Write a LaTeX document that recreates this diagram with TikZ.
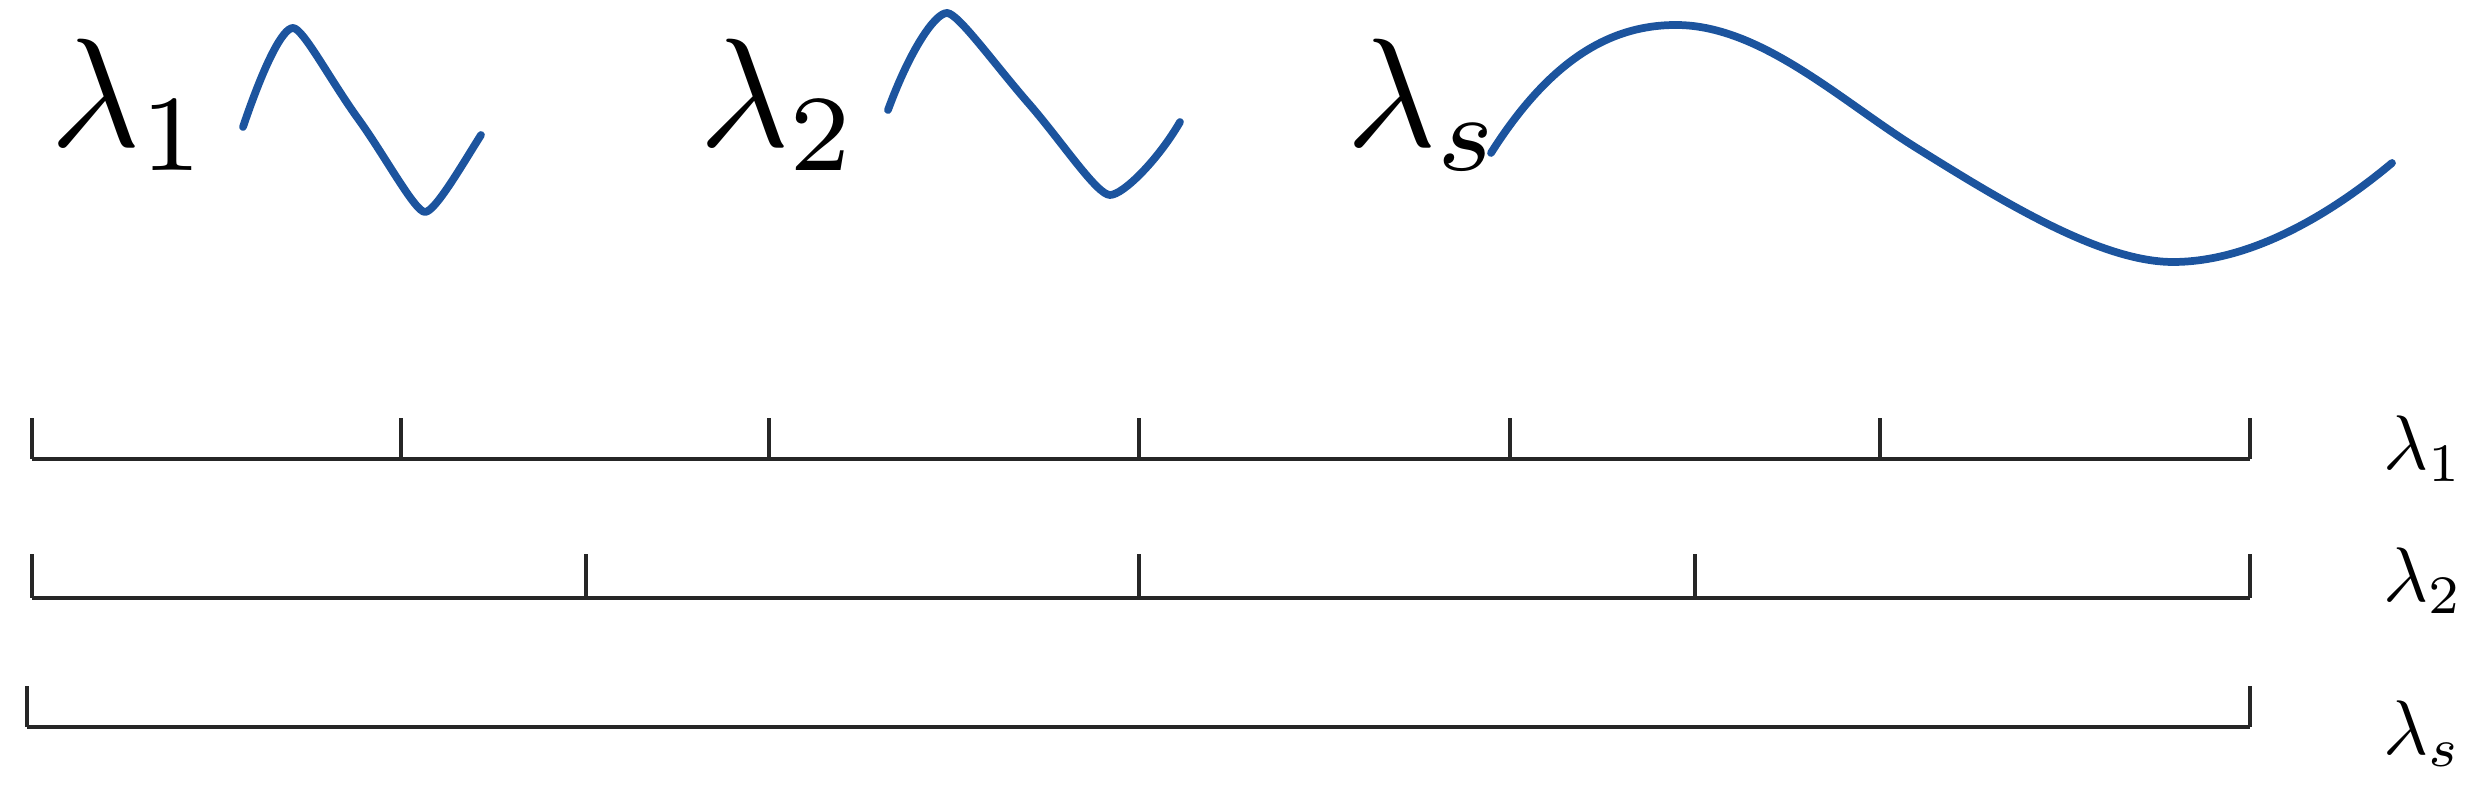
\documentclass[tikz,border=0pt]{standalone}
\usepackage{graphicx}
\definecolor{wavec}{RGB}{28,84,158}
\tikzset{
  wave/.style={draw=wavec, line width=2.2pt, line cap=round, line join=round},
  bar/.style={draw=black!85, line width=1.1pt},
  tickmark/.style={draw=black!85, line width=0.9pt},
  biglbl/.style={inner sep=0pt, anchor=base west},
  smalllbl/.style={inner sep=0pt, anchor=base west}
}
\newcommand{\biglam}[1]{\scalebox{4.4}{$\lambda_{#1}$}}
\newcommand{\smalllam}[1]{\scalebox{2.2}{$\lambda_{#1}$}}
\begin{document}
\begin{tikzpicture}[x=0.01cm, y=-0.01cm]
\useasboundingbox (0,0) rectangle (2477,804);
% top labels
\node[biglbl] (t1) at (50,147) {\biglam{1}};
\node[biglbl] (t2) at (699,147) {\biglam{2}};
\node[biglbl] (ts) at (1346,147) {\biglam{s}};
% waves
\draw[wave] (243,127) .. controls (265,62) and (283,28) .. (293,28)
  .. controls (303,28) and (330,80) .. (359,120)
  .. controls (385,156) and (415,212) .. (425,212)
  .. controls (435,212) and (462,165) .. (481,135);
\draw[wave] (888,110) .. controls (910,50) and (935,13) .. (947,13)
  .. controls (958,13) and (995,65) .. (1030,105)
  .. controls (1062,142) and (1097,195) .. (1110,195)
  .. controls (1123,195) and (1158,160) .. (1180,122);
\draw[wave] (1491,153) .. controls (1550,60) and (1610,25) .. (1676,25)
  .. controls (1760,25) and (1840,100) .. (1915,147)
  .. controls (2000,200) and (2100,262) .. (2173,262)
  .. controls (2250,262) and (2330,215) .. (2392,163);
% bars
\coordinate (r1a) at (32,459);  \coordinate (r1b) at (2250,459);
\coordinate (r2a) at (32,598);  \coordinate (r2b) at (2250,598);
\coordinate (r3a) at (27,727);  \coordinate (r3b) at (2250,727);
\draw[bar] (r1a) -- (r1b);
\draw[bar] (r2a) -- (r2b);
\draw[bar] (r3a) -- (r3b);
\foreach \x in {32,401,769,1139,1510,1880,2250} \draw[tickmark] (\x,459) -- (\x,418);
\foreach \x in {32,586,1139,1695,2250} \draw[tickmark] (\x,598) -- (\x,554);
\foreach \x in {27,2250} \draw[tickmark] (\x,727) -- (\x,686);
% right labels
\node[smalllbl] (b1) at (2383,470) {\smalllam{1}};
\node[smalllbl] (b2) at (2383,602) {\smalllam{2}};
\node[smalllbl] (bs) at (2383,755) {\smalllam{s}};
\end{tikzpicture}
\end{document}
